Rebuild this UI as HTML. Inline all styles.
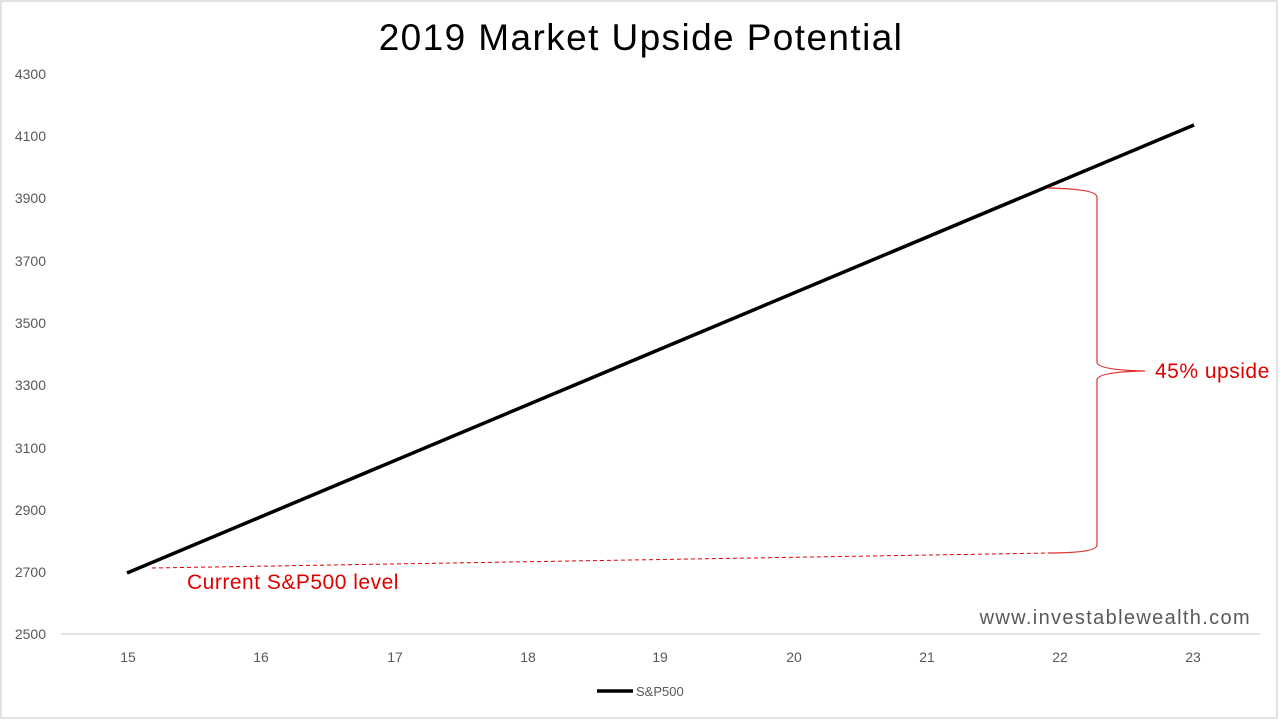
<!DOCTYPE html>
<html><head><meta charset="utf-8"><style>
body{margin:0;width:1280px;height:720px;background:#fff;overflow:hidden}
</style></head><body>
<svg width="1280" height="720" viewBox="0 0 1280 720" xmlns="http://www.w3.org/2000/svg" font-family="Liberation Sans, sans-serif">
<rect x="1" y="1" width="1276" height="717" fill="#fff" stroke="#d9d9d9" stroke-width="1.5"/>
<text x="641" y="50" font-size="37" letter-spacing="1.4" text-anchor="middle" fill="#000">2019 Market Upside Potential</text>
<g font-size="14" fill="#595959" text-anchor="end">
<text x="46" y="79">4300</text><text x="46" y="141">4100</text><text x="46" y="203">3900</text>
<text x="46" y="266">3700</text><text x="46" y="328">3500</text><text x="46" y="390">3300</text>
<text x="46" y="453">3100</text><text x="46" y="515">2900</text><text x="46" y="577">2700</text>
<text x="46" y="639">2500</text>
</g>
<line x1="61" y1="634" x2="1260" y2="634" stroke="#d9d9d9" stroke-width="1.5"/>
<g font-size="14" fill="#595959" text-anchor="middle">
<text x="128" y="662">15</text><text x="261" y="662">16</text><text x="395" y="662">17</text>
<text x="528" y="662">18</text><text x="660" y="662">19</text><text x="794" y="662">20</text>
<text x="927" y="662">21</text><text x="1060" y="662">22</text><text x="1193" y="662">23</text>
</g>
<line x1="127" y1="573" x2="1194" y2="125" stroke="#000" stroke-width="3.5"/>
<line x1="152" y1="568" x2="1050" y2="553" stroke="#e00000" stroke-width="1" stroke-dasharray="4,3"/>
<path d="M1048,188 Q1097,189 1097,197 L1097,362 Q1097,370 1145,371 Q1097,372 1097,380 L1097,545 Q1097,553 1048,553" fill="none" stroke="#e03030" stroke-width="1.2"/>
<text x="1155" y="378" font-size="21" letter-spacing="0.5" fill="#e00000">45% upside</text>
<text x="187" y="589" font-size="21" letter-spacing="0.5" fill="#e00000">Current S&amp;P500 level</text>
<text x="1251" y="624" font-size="20" letter-spacing="1.35" fill="#595959" text-anchor="end">www.investablewealth.com</text>
<line x1="597" y1="691" x2="633" y2="691" stroke="#000" stroke-width="3.5"/>
<text x="636" y="696" font-size="13" fill="#595959">S&amp;P500</text>
</svg>
</body></html>
